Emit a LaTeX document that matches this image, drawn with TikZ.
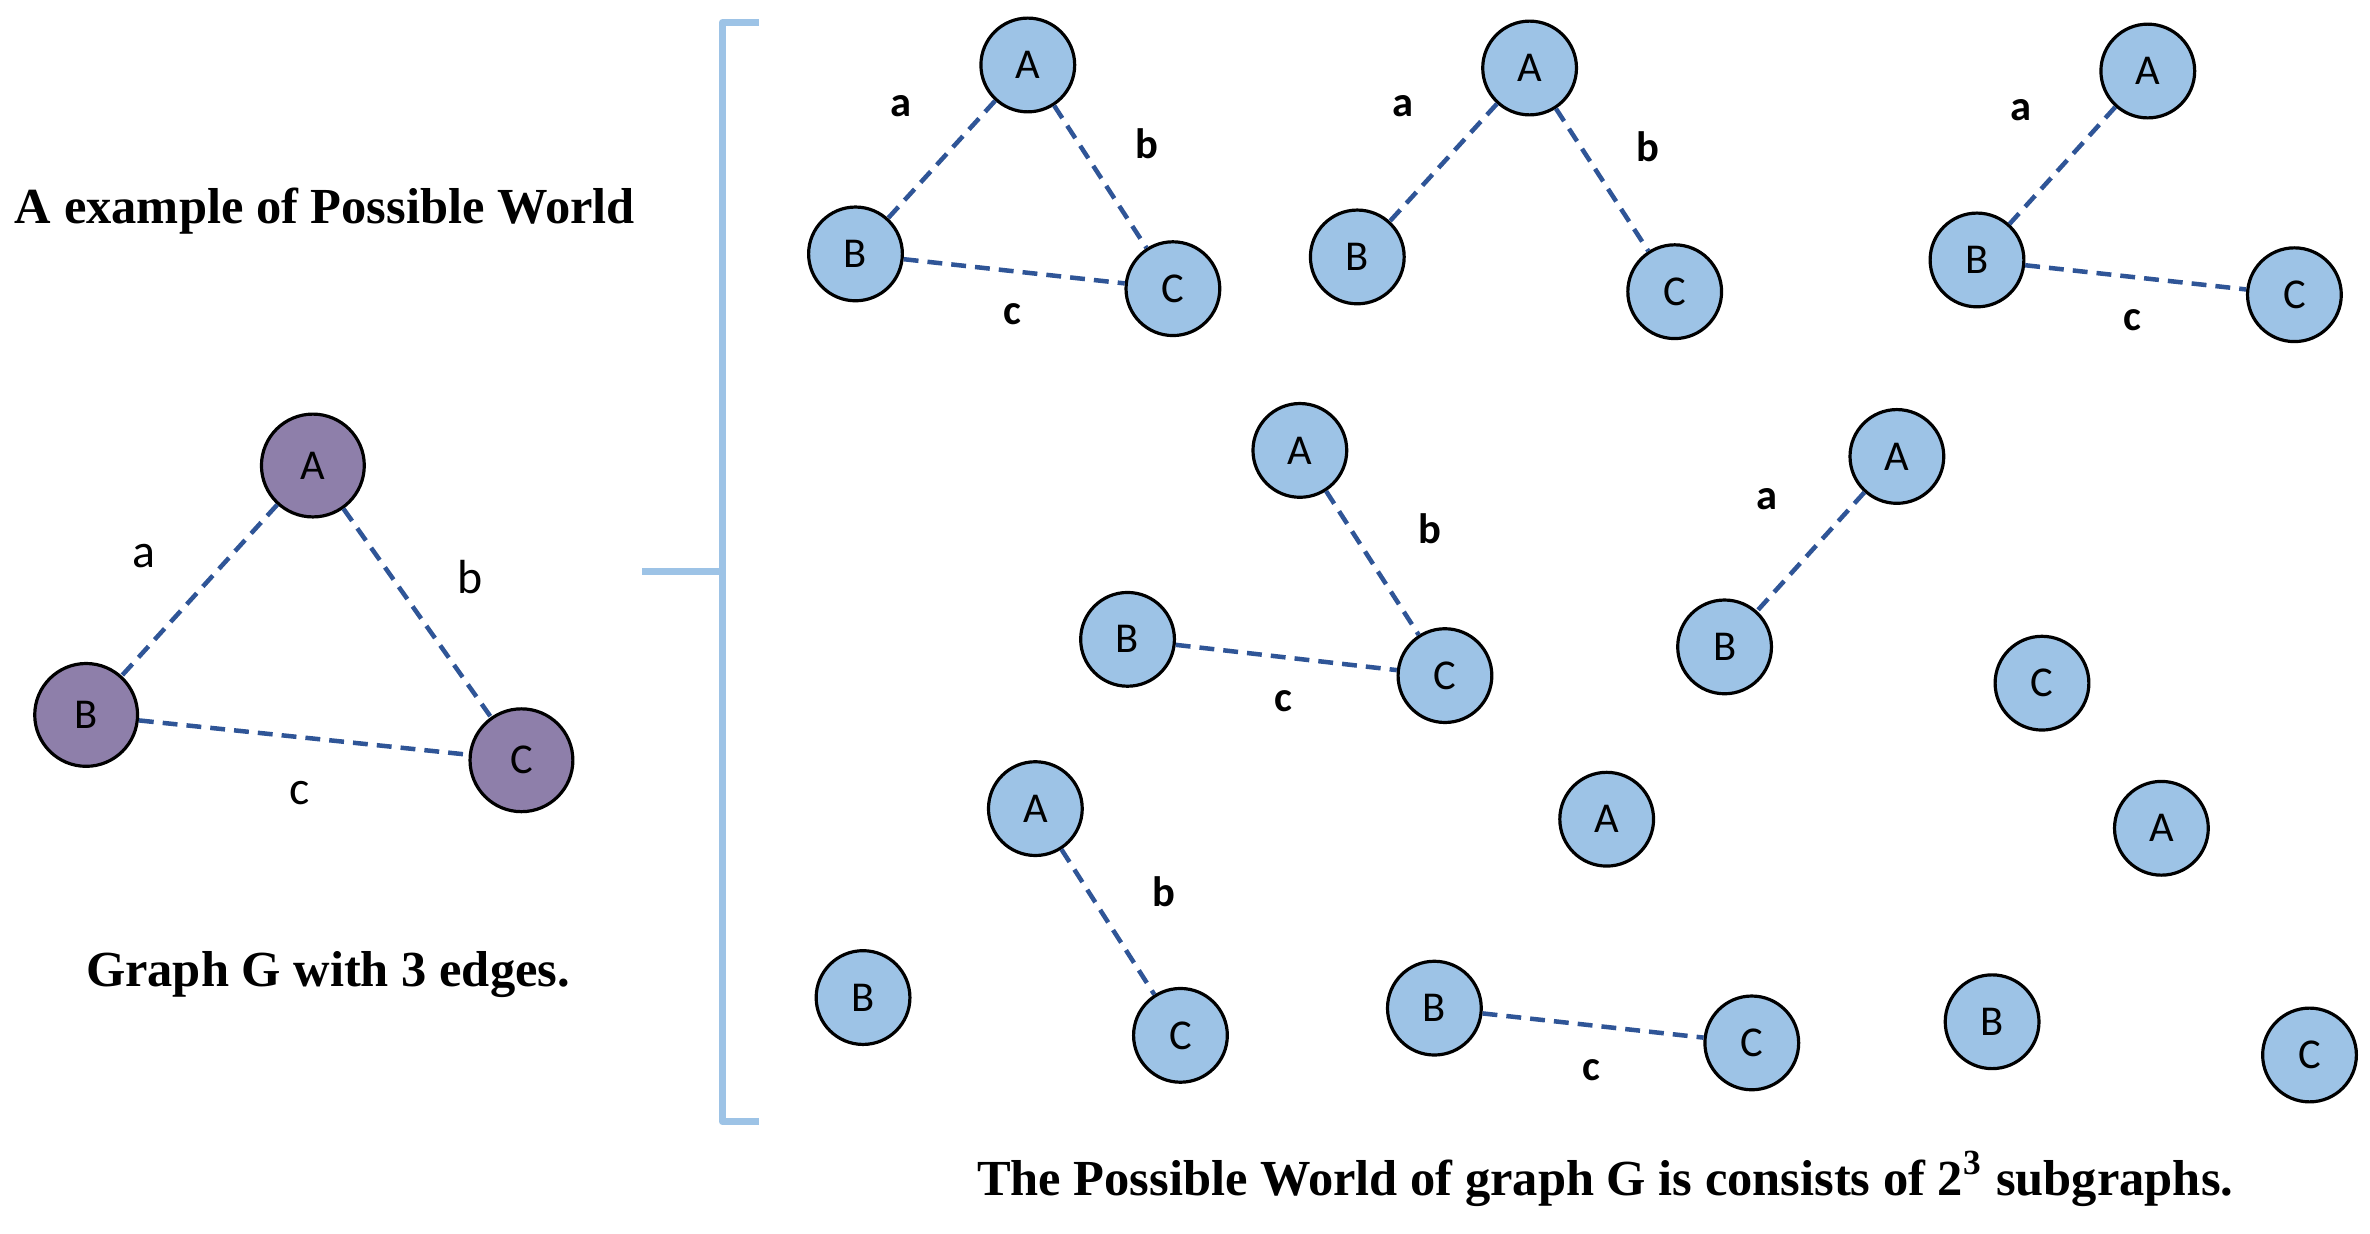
\documentclass[tikz,border=0pt]{standalone}
\usepackage{fontspec}
\setmainfont{TeX Gyre Heros}
\newfontfamily\carl{Carlito}
\newfontfamily\serifb{Liberation Serif}
\definecolor{nb}{HTML}{9DC3E6}
\definecolor{np}{HTML}{8E7FAA}
\definecolor{ed}{HTML}{2F5597}
\tikzset{
 vx/.style={circle,draw=black,line width=0.6pt,fill=nb,minimum size=0.62cm,inner sep=0pt,font=\carl\fontsize{8}{9}\selectfont},
 pv/.style={vx,fill=np,minimum size=0.68cm},
 ee/.style={draw=ed,line width=0.85pt,dash pattern=on 2.8pt off 1.7pt},
 el/.style={font=\carl\bfseries\fontsize{8}{9}\selectfont},
 pl/.style={font=\carl\fontsize{9}{10}\selectfont},
 tt/.style={font=\serifb\bfseries\fontsize{9.5}{11}\selectfont}
}
\begin{document}
\begin{tikzpicture}[x=0.01cm,y=-0.01cm]
\useasboundingbox (0,0) rectangle (1568,816);
% left graph
\node[pv] (LA) at (207,308) {A};
\node[pv] (LB) at (57,473) {B};
\node[pv] (LC) at (345,503) {C};
\draw[ee] (LA)--(LB); \draw[ee] (LA)--(LC); \draw[ee] (LB)--(LC);
\node[pl] (la) at (95,368) {a};
\node[pl] (lb) at (311,382) {b};
\node[pl] (lc) at (198,525) {c};
\node[tt] (t1) at (215,140) {A example of Possible World};
\node[tt] (t2) at (217,645) {Graph G with 3 edges.};
\node[tt] (t3) at (1062,780) {The Possible World of graph G is consists of 2\textsuperscript{3} subgraphs.};
% brace
\draw[nb,line width=1.4pt,line join=round] (502,15)--(478,15)--(478,742)--(502,742);
\draw[nb,line width=1.4pt] (478,378)--(425,378);
% subgraphs
\foreach \n/\ax/\ay/\bx/\by/\cx/\cy in {1/680/43/566/168/776/191,2/1012/45/898/170/1108/193,3/1421/47/1308/172/1518/195,4/860/298/746/423/956/447,5/1255/302/1141/428/1351/452,6/685/535/571/660/781/685,7/1063/542/949/667/1159/690,8/1430/548/1318/676/1528/698}{
 \node[vx] (A\n) at (\ax,\ay) {A};
 \node[vx] (B\n) at (\bx,\by) {B};
 \node[vx] (C\n) at (\cx,\cy) {C};
}
\draw[ee] (A1)--(B1); \draw[ee] (A1)--(C1); \draw[ee] (B1)--(C1);
\node[el] at (596,70) {a}; \node[el] at (759,95) {b}; \node[el] at (670,208) {c};
\draw[ee] (A2)--(B2); \draw[ee] (A2)--(C2);
\node[el] at (928,70) {a}; \node[el] at (1090,97) {b};
\draw[ee] (A3)--(B3); \draw[ee] (B3)--(C3);
\node[el] at (1337,73) {a}; \node[el] at (1411,212) {c};
\draw[ee] (A4)--(C4); \draw[ee] (B4)--(C4);
\node[el] at (946,350) {b}; \node[el] at (849,464) {c};
\draw[ee] (A5)--(B5);
\node[el] at (1169,330) {a};
\draw[ee] (A6)--(C6);
\node[el] at (770,590) {b};
\draw[ee] (B7)--(C7);
\node[el] at (1053,708) {c};
\end{tikzpicture}
\end{document}
